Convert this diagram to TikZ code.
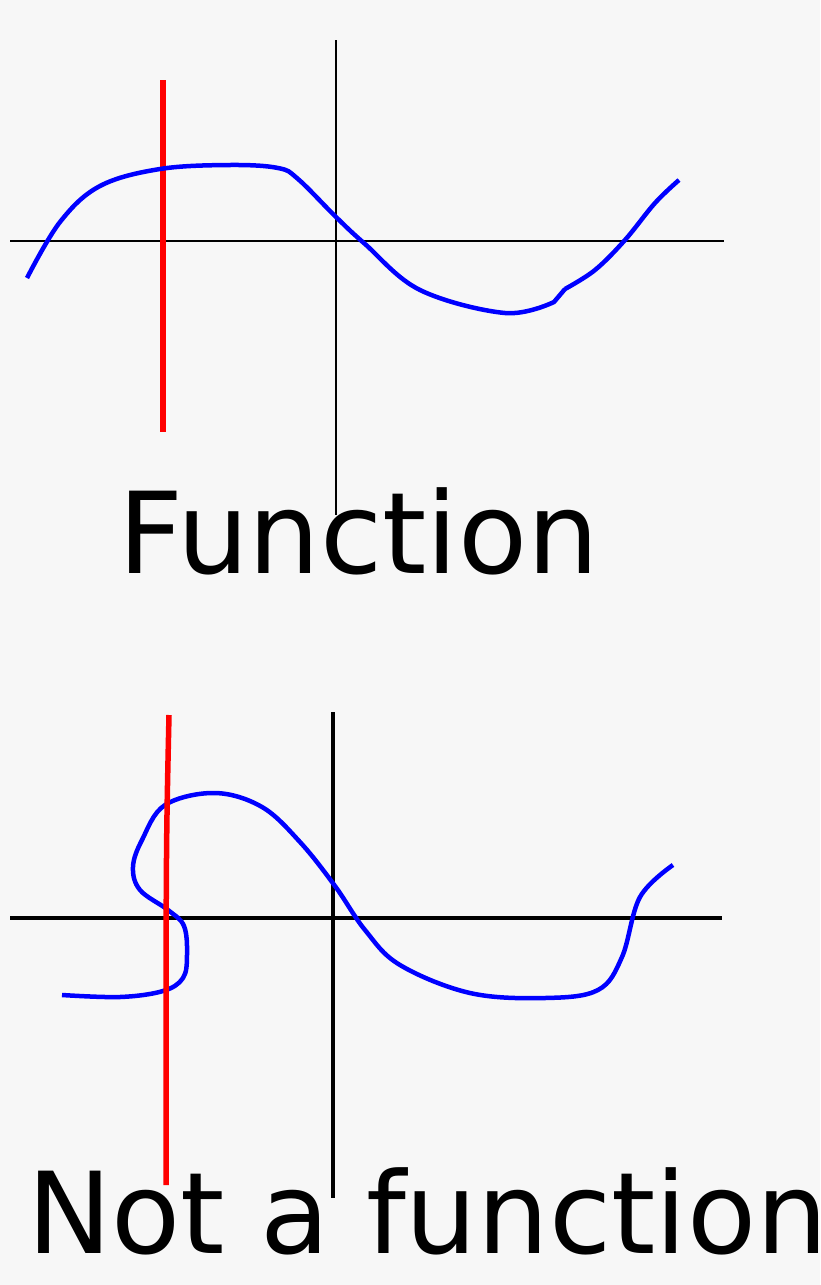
\documentclass[tikz,border=0pt]{standalone}
\usepackage{fontspec}
\setmainfont{DejaVu Sans}
\begin{document}
\begin{tikzpicture}[x=1pt,y=-1pt,
  axis/.style={black,line width=2pt},
  axisb/.style={black,line width=4pt},
  vline/.style={red,line width=5.5pt},
  curve/.style={blue,line width=4.5pt},
  lbl/.style={font=\fontsize{113}{116}\selectfont,inner sep=0pt,anchor=base west}]
\fill[fill={rgb,255:red,247;green,247;blue,247}] (0,0) rectangle (820,1285);
\useasboundingbox (0,0) rectangle (820,1285);
\clip (0,0) rectangle (820,1285);
% top
\coordinate (ya) at (336,40); \coordinate (yb) at (336,515);
\coordinate (xa) at (10,241); \coordinate (xb) at (724,241);
\draw[axis] (ya) -- (yb); \draw[axis] (xa) -- (xb);
\coordinate (ra) at (163,80); \coordinate (rb) at (163,432);
\draw[vline] (ra) -- (rb);
\draw[curve] plot[smooth,tension=0.6] coordinates {(27,278) (60,222) (100,186) (160,169) (230,165) (278,168) (298,179) (336,217) (365,244) (420,290) (505,313) (554,302)} -- (565,289) plot[smooth,tension=0.6] coordinates {(565,289) (595,270) (625,240) (655,203) (679,180)};
\node[lbl] (f) at (118,573) {Function};
% bottom
\coordinate (yc) at (333,712); \coordinate (yd) at (333,1198);
\coordinate (xc) at (10,918); \coordinate (xd) at (722,918);
\draw[axisb] (yc) -- (yd); \draw[axisb] (xc) -- (xd);
\draw[curve] plot[smooth,tension=0.6] coordinates {(62,995) (120,997) (163,991) (183,978) (187,955) (184,926) (168,910) (140,890) (133,867) (142,840) (165,805) (215,793) (262,807) (300,842) (335,886) (365,930) (400,965) (470,993) (545,998) (598,990) (622,957) (640,897) (673,865)};
\coordinate (rc) at (169,715); \coordinate (rd) at (166,1185);
\draw[vline] (rc) .. controls (166,850) .. (rd);
\node[lbl] (n) at (27,1253) {Not a function};
\end{tikzpicture}
\end{document}
